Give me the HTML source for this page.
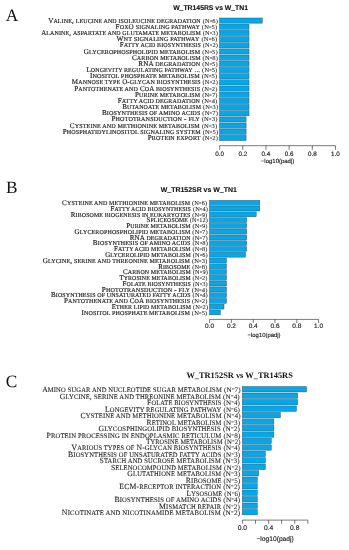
<!DOCTYPE html>
<html lang="en">
<head>
<meta charset="utf-8">
<title>KEGG enrichment bar charts</title>
<style>
html,body{margin:0;padding:0;background:#fff;}
body{position:relative;width:349px;height:550px;overflow:hidden;}
svg{position:absolute;left:0;top:0;display:block;text-rendering:geometricPrecision;}
.lab{position:absolute;white-space:nowrap;font-family:"Liberation Serif",serif;font-size:50px;line-height:50px;
 height:50px;text-rendering:geometricPrecision;text-transform:uppercase;color:#1c1c1c;transform-origin:100% 100%;text-align:right;}
.lab i{font-style:normal;font-size:0.85em;line-height:0;}
.lab u{text-decoration:none;font-size:.92em;line-height:1;display:inline-block;vertical-align:baseline;transform:scaleY(.92);transform-origin:0 83.75%;-webkit-text-stroke-width:0.5px;}
.lab s{text-decoration:none;font-size:.68em;line-height:0;vertical-align:.09em;}
.sans{font-family:"Liberation Sans",sans-serif;fill:#111;stroke:#111;stroke-width:0.12px;}
.serif{font-family:"Liberation Serif",serif;fill:#111;}
.panel{font-family:"Liberation Serif",serif;font-size:17.3px;fill:#111;}
.bar{fill:#02a8ec;stroke:#3a4a55;stroke-width:0.45;}
.ax{stroke:#222;stroke-width:0.6;fill:none;}

.lA{transform:scale(0.1611,0.144);letter-spacing:0.9px;-webkit-text-stroke:1.18px #1c1c1c;}
.lB{transform:scale(0.1611,0.144);letter-spacing:0.9px;-webkit-text-stroke:1.18px #1c1c1c;}
.lC{transform:scale(0.1768,0.158);letter-spacing:0.91px;-webkit-text-stroke:0.63px #1c1c1c;}
.lC u{transform:scaleY(.96);}
</style>
</head>
<body>
<svg width="349" height="550" viewBox="0 0 349 550">
<rect x="0" y="0" width="349" height="550" fill="#ffffff"/>
<g id="chartA">
<text class="panel" x="5.8" y="20.75">A</text>
<text class="sans" x="210.6" y="9.8" font-size="6.85" font-weight="bold" text-anchor="middle">W_TR145RS vs W_TN1</text>
<rect class="bar" x="219.5" y="18" width="42.8" height="5.15"/>
<rect class="bar" x="219.5" y="24.18" width="29.5" height="5.15"/>
<rect class="bar" x="219.5" y="30.36" width="29.5" height="5.15"/>
<rect class="bar" x="219.5" y="36.54" width="29.5" height="5.15"/>
<rect class="bar" x="219.5" y="42.72" width="29.5" height="5.15"/>
<rect class="bar" x="219.5" y="48.9" width="29.5" height="5.15"/>
<rect class="bar" x="219.5" y="55.08" width="29.5" height="5.15"/>
<rect class="bar" x="219.5" y="61.26" width="29.5" height="5.15"/>
<rect class="bar" x="219.5" y="67.44" width="29.5" height="5.15"/>
<rect class="bar" x="219.5" y="73.62" width="29.5" height="5.15"/>
<rect class="bar" x="219.5" y="79.8" width="29.5" height="5.15"/>
<rect class="bar" x="219.5" y="85.98" width="29.5" height="5.15"/>
<rect class="bar" x="219.5" y="92.16" width="29.5" height="5.15"/>
<rect class="bar" x="219.5" y="98.34" width="29.5" height="5.15"/>
<rect class="bar" x="219.5" y="104.52" width="29.5" height="5.15"/>
<rect class="bar" x="219.5" y="110.7" width="29.5" height="5.15"/>
<rect class="bar" x="219.5" y="116.88" width="26.6" height="5.15"/>
<rect class="bar" x="219.5" y="123.06" width="26.6" height="5.15"/>
<rect class="bar" x="219.5" y="129.24" width="26.6" height="5.15"/>
<rect class="bar" x="219.5" y="135.42" width="26.6" height="5.15"/>
<path class="ax" d="M219.6 145.7H335.5M219.6 145.7v4.1M242.78 145.7v4.1M265.96 145.7v4.1M289.14 145.7v4.1M312.32 145.7v4.1M335.5 145.7v4.1"/>
<text class="sans" x="219.6" y="155.8" font-size="6.3" text-anchor="middle">0.0</text>
<text class="sans" x="242.78" y="155.8" font-size="6.3" text-anchor="middle">0.2</text>
<text class="sans" x="265.96" y="155.8" font-size="6.3" text-anchor="middle">0.4</text>
<text class="sans" x="289.14" y="155.8" font-size="6.3" text-anchor="middle">0.6</text>
<text class="sans" x="312.32" y="155.8" font-size="6.3" text-anchor="middle">0.8</text>
<text class="sans" x="335.5" y="155.8" font-size="6.3" text-anchor="middle">1.0</text>
<text class="sans" x="277.55" y="162.5" font-size="5.97" text-anchor="middle">−log10(padj)</text>
</g>
<g id="chartB">
<text class="panel" x="6" y="193">B</text>
<text class="sans" x="198.8" y="192.1" font-size="6.95" font-weight="bold" text-anchor="middle">W_TR152SR vs W_TN1</text>
<rect class="bar" x="209.5" y="200.4" width="50.3" height="4.81"/>
<rect class="bar" x="209.5" y="206.17" width="50.3" height="4.81"/>
<rect class="bar" x="209.5" y="211.94" width="46.7" height="4.81"/>
<rect class="bar" x="209.5" y="217.71" width="37.2" height="4.81"/>
<rect class="bar" x="209.5" y="223.48" width="37.2" height="4.81"/>
<rect class="bar" x="209.5" y="229.25" width="37.2" height="4.81"/>
<rect class="bar" x="209.5" y="235.02" width="37.2" height="4.81"/>
<rect class="bar" x="209.5" y="240.79" width="37.2" height="4.81"/>
<rect class="bar" x="209.5" y="246.56" width="37.2" height="4.81"/>
<rect class="bar" x="209.5" y="252.33" width="36" height="4.81"/>
<rect class="bar" x="209.5" y="258.1" width="17" height="4.81"/>
<rect class="bar" x="209.5" y="263.87" width="17" height="4.81"/>
<rect class="bar" x="209.5" y="269.64" width="17" height="4.81"/>
<rect class="bar" x="209.5" y="275.41" width="17" height="4.81"/>
<rect class="bar" x="209.5" y="281.18" width="17" height="4.81"/>
<rect class="bar" x="209.5" y="286.95" width="17" height="4.81"/>
<rect class="bar" x="209.5" y="292.72" width="17" height="4.81"/>
<rect class="bar" x="209.5" y="298.49" width="17" height="4.81"/>
<rect class="bar" x="209.5" y="304.26" width="14.5" height="4.81"/>
<rect class="bar" x="209.5" y="310.03" width="10.8" height="4.81"/>
<path class="ax" d="M209.6 319.4H318.6M209.6 319.4v3.6M231.4 319.4v3.6M253.2 319.4v3.6M275 319.4v3.6M296.8 319.4v3.6M318.6 319.4v3.6"/>
<text class="sans" x="209.6" y="327.8" font-size="6.5" text-anchor="middle">0.0</text>
<text class="sans" x="231.4" y="327.8" font-size="6.5" text-anchor="middle">0.2</text>
<text class="sans" x="253.2" y="327.8" font-size="6.5" text-anchor="middle">0.4</text>
<text class="sans" x="275" y="327.8" font-size="6.5" text-anchor="middle">0.6</text>
<text class="sans" x="296.8" y="327.8" font-size="6.5" text-anchor="middle">0.8</text>
<text class="sans" x="318.6" y="327.8" font-size="6.5" text-anchor="middle">1.0</text>
<text class="sans" x="264.1" y="336.7" font-size="5.92" text-anchor="middle">−log10(padj)</text>
</g>
<g id="chartC">
<text class="panel" x="5.7" y="387.3">C</text>
<text class="serif" x="239.6" y="378.2" font-size="8.4" font-weight="bold" text-anchor="middle">W_TR152SR vs W_TR145RS</text>
<rect class="bar" x="242.3" y="386.55" width="64.2" height="5.39"/>
<rect class="bar" x="242.3" y="393.02" width="55.4" height="5.39"/>
<rect class="bar" x="242.3" y="399.49" width="55.4" height="5.39"/>
<rect class="bar" x="242.3" y="405.96" width="54.1" height="5.39"/>
<rect class="bar" x="242.3" y="412.43" width="38.1" height="5.39"/>
<rect class="bar" x="242.3" y="418.9" width="31.6" height="5.39"/>
<rect class="bar" x="242.3" y="425.37" width="31.6" height="5.39"/>
<rect class="bar" x="242.3" y="431.84" width="31.6" height="5.39"/>
<rect class="bar" x="242.3" y="438.31" width="29" height="5.39"/>
<rect class="bar" x="242.3" y="444.78" width="29" height="5.39"/>
<rect class="bar" x="242.3" y="451.25" width="23.1" height="5.39"/>
<rect class="bar" x="242.3" y="457.72" width="23.1" height="5.39"/>
<rect class="bar" x="242.3" y="464.19" width="23.1" height="5.39"/>
<rect class="bar" x="242.3" y="470.66" width="16.3" height="5.39"/>
<rect class="bar" x="242.3" y="477.13" width="15" height="5.39"/>
<rect class="bar" x="242.3" y="483.6" width="15" height="5.39"/>
<rect class="bar" x="242.3" y="490.07" width="15" height="5.39"/>
<rect class="bar" x="242.3" y="496.54" width="15" height="5.39"/>
<rect class="bar" x="242.3" y="503.01" width="15" height="5.39"/>
<rect class="bar" x="242.3" y="509.48" width="15" height="5.39"/>
<path class="ax" d="M242.4 520.1H307.8M242.4 520.1v3.7M255.48 520.1v3.7M268.56 520.1v3.7M281.64 520.1v3.7M294.72 520.1v3.7M307.8 520.1v3.7"/>
<text class="sans" x="242.4" y="530" font-size="6.7" text-anchor="middle">0.0</text>
<text class="sans" x="268.56" y="530" font-size="6.7" text-anchor="middle">0.4</text>
<text class="sans" x="294.72" y="530" font-size="6.7" text-anchor="middle">0.8</text>
<text class="sans" x="275.1" y="541.3" font-size="6.7" text-anchor="middle">−log10(padj)</text>
</g>
</svg>
<div class="lab lA" style="right:131.27px;bottom:526.4px;transform:scale(0.1407,0.144)">V<i>aline</i>, <i>leucine and isoleucine degradation</i> <u>(N<s>=</s>6)</u></div>
<div class="lab lA" style="right:131.27px;bottom:520.23px;transform:scale(0.1418,0.144)">F<i>ox</i>O <i>signaling pathway</i> <u>(N<s>=</s>5)</u></div>
<div class="lab lA" style="right:131.27px;bottom:514.04px;transform:scale(0.1395,0.144)">A<i>lanine</i>, <i>aspartate and glutamate metabolism</i> <u>(N<s>=</s>3)</u></div>
<div class="lab lA" style="right:131.27px;bottom:507.87px;transform:scale(0.1454,0.144)">W<i>nt signaling pathway</i> <u>(N<s>=</s>6)</u></div>
<div class="lab lA" style="right:131.27px;bottom:501.69px;transform:scale(0.1399,0.144)">F<i>atty acid biosynthesis</i> <u>(N<s>=</s>2)</u></div>
<div class="lab lA" style="right:131.27px;bottom:495.5px;transform:scale(0.1423,0.144)">G<i>lycerophospholipid metabolism</i> <u>(N<s>=</s>5)</u></div>
<div class="lab lA" style="right:131.27px;bottom:489.32px;transform:scale(0.1416,0.144)">C<i>arbon metabolism</i> <u>(N<s>=</s>8)</u></div>
<div class="lab lA" style="right:131.27px;bottom:483.14px;transform:scale(0.1431,0.144)">RNA <i>degradation</i> <u>(N<s>=</s>5)</u></div>
<div class="lab lA" style="right:131.27px;bottom:476.97px;transform:scale(0.14,0.144)">L<i>ongevity regulating pathway</i> ... <u>(N<s>=</s>5)</u></div>
<div class="lab lA" style="right:131.27px;bottom:470.78px;transform:scale(0.1441,0.144)">I<i>nositol phosphate metabolism</i> <u>(N<s>=</s>5)</u></div>
<div class="lab lA" style="right:131.27px;bottom:464.61px;transform:scale(0.1409,0.144)">M<i>annose type</i> O-<i>glycan biosynthesis</i> <u>(N<s>=</s>2)</u></div>
<div class="lab lA" style="right:131.27px;bottom:458.43px;transform:scale(0.1413,0.144)">P<i>antothenate and</i> C<i>o</i>A <i>biosynthesis</i> <u>(N<s>=</s>2)</u></div>
<div class="lab lA" style="right:131.27px;bottom:452.25px;transform:scale(0.1416,0.144)">P<i>urine metabolism</i> <u>(N<s>=</s>7)</u></div>
<div class="lab lA" style="right:131.27px;bottom:446.06px;transform:scale(0.1415,0.144)">F<i>atty acid degradation</i> <u>(N<s>=</s>4)</u></div>
<div class="lab lA" style="right:131.27px;bottom:439.88px;transform:scale(0.1401,0.144)">B<i>utanoate metabolism</i> <u>(N<s>=</s>3)</u></div>
<div class="lab lA" style="right:131.27px;bottom:433.71px;transform:scale(0.1439,0.144)">B<i>iosynthesis of amino acids</i> <u>(N<s>=</s>7)</u></div>
<div class="lab lA" style="right:131.27px;bottom:427.52px;transform:scale(0.144,0.144)">P<i>hototransduction</i> - <i>fly</i> <u>(N<s>=</s>3)</u></div>
<div class="lab lA" style="right:131.27px;bottom:421.35px;transform:scale(0.1434,0.144)">C<i>ysteine and methionine metabolism</i> <u>(N<s>=</s>3)</u></div>
<div class="lab lA" style="right:131.27px;bottom:415.17px;transform:scale(0.1427,0.144)">P<i>hosphatidylinositol signaling system</i> <u>(N<s>=</s>5)</u></div>
<div class="lab lA" style="right:131.27px;bottom:408.99px;transform:scale(0.1428,0.144)">P<i>rotein export</i> <u>(N<s>=</s>2)</u></div>
<div class="lab lB" style="right:141.27px;bottom:343.93px;transform:scale(0.1411,0.144)">C<i>ysteine and methionine metabolism</i> <u>(N<s>=</s>6)</u></div>
<div class="lab lB" style="right:141.27px;bottom:338.16px;transform:scale(0.1387,0.144)">F<i>atty acid biosynthesis</i> <u>(N<s>=</s>4)</u></div>
<div class="lab lB" style="right:141.27px;bottom:332.39px;transform:scale(0.139,0.144)">R<i>ibosome biogenesis in eukaryotes</i> <u>(N<s>=</s>9)</u></div>
<div class="lab lB" style="right:141.28px;bottom:326.62px;transform:scale(0.1361,0.144)">S<i>pliceosome</i> <u>(N<s>=</s>12)</u></div>
<div class="lab lB" style="right:141.27px;bottom:320.85px;transform:scale(0.1394,0.144)">P<i>urine metabolism</i> <u>(N<s>=</s>9)</u></div>
<div class="lab lB" style="right:141.27px;bottom:315.08px;transform:scale(0.1415,0.144)">G<i>lycerophospholipid metabolism</i> <u>(N<s>=</s>7)</u></div>
<div class="lab lB" style="right:141.27px;bottom:309.31px;transform:scale(0.1406,0.144)">RNA <i>degradation</i> <u>(N<s>=</s>7)</u></div>
<div class="lab lB" style="right:141.27px;bottom:303.54px;transform:scale(0.1427,0.144)">B<i>iosynthesis of amino acids</i> <u>(N<s>=</s>8)</u></div>
<div class="lab lB" style="right:141.28px;bottom:297.77px;transform:scale(0.1381,0.144)">F<i>atty acid metabolism</i> <u>(N<s>=</s>8)</u></div>
<div class="lab lB" style="right:141.28px;bottom:292px;transform:scale(0.1383,0.144)">G<i>lycerolipid metabolism</i> <u>(N<s>=</s>6)</u></div>
<div class="lab lB" style="right:141.27px;bottom:286.23px;transform:scale(0.1418,0.144)">G<i>lycine</i>, <i>serine and threonine metabolism</i> <u>(N<s>=</s>3)</u></div>
<div class="lab lB" style="right:141.27px;bottom:280.46px;transform:scale(0.1386,0.144)">R<i>ibosome</i> <u>(N<s>=</s>8)</u></div>
<div class="lab lB" style="right:141.27px;bottom:274.69px;transform:scale(0.1398,0.144)">C<i>arbon metabolism</i> <u>(N<s>=</s>9)</u></div>
<div class="lab lB" style="right:141.28px;bottom:268.92px;transform:scale(0.137,0.144)">T<i>yrosine metabolism</i> <u>(N<s>=</s>2)</u></div>
<div class="lab lB" style="right:141.27px;bottom:263.15px;transform:scale(0.1387,0.144)">F<i>olate biosynthesis</i> <u>(N<s>=</s>3)</u></div>
<div class="lab lB" style="right:141.27px;bottom:257.38px;transform:scale(0.1435,0.144)">P<i>hototransduction</i> - <i>fly</i> <u>(N<s>=</s>4)</u></div>
<div class="lab lB" style="right:141.27px;bottom:251.61px;transform:scale(0.1402,0.144)">B<i>iosynthesis of unsaturated fatty acids</i> <u>(N<s>=</s>4)</u></div>
<div class="lab lB" style="right:141.27px;bottom:245.84px;transform:scale(0.1415,0.144)">P<i>antothenate and</i> C<i>o</i>A <i>biosynthesis</i> <u>(N<s>=</s>2)</u></div>
<div class="lab lB" style="right:141.27px;bottom:240.07px;transform:scale(0.1396,0.144)">E<i>ther lipid metabolism</i> <u>(N<s>=</s>2)</u></div>
<div class="lab lB" style="right:141.27px;bottom:234.3px;transform:scale(0.1424,0.144)">I<i>nositol phosphate metabolism</i> <u>(N<s>=</s>5)</u></div>
<div class="lab lC" style="right:108.76px;bottom:156.77px;transform:scale(0.1541,0.158)">A<i>mino sugar and nucleotide sugar metabolism</i> <u>(N<s>=</s>7)</u></div>
<div class="lab lC" style="right:108.76px;bottom:150.3px;transform:scale(0.155,0.158)">G<i>lycine</i>, <i>serine and threonine metabolism</i> <u>(N<s>=</s>4)</u></div>
<div class="lab lC" style="right:108.76px;bottom:143.83px;transform:scale(0.1511,0.158)">F<i>olate biosynthesis</i> <u>(N<s>=</s>4)</u></div>
<div class="lab lC" style="right:108.76px;bottom:137.36px;transform:scale(0.1531,0.158)">L<i>ongevity regulating pathway</i> <u>(N<s>=</s>6)</u></div>
<div class="lab lC" style="right:108.76px;bottom:130.89px;transform:scale(0.1556,0.158)">C<i>ysteine and methionine metabolism</i> <u>(N<s>=</s>4)</u></div>
<div class="lab lC" style="right:108.76px;bottom:124.42px;transform:scale(0.1533,0.158)">R<i>etinol metabolism</i> <u>(N<s>=</s>3)</u></div>
<div class="lab lC" style="right:108.76px;bottom:117.95px;transform:scale(0.1567,0.158)">G<i>lycosphingolipid biosynthesis</i> <u>(N<s>=</s>2)</u></div>
<div class="lab lC" style="right:108.76px;bottom:111.48px;transform:scale(0.1562,0.158)">P<i>rotein processing in endoplasmic reticulum</i> <u>(N<s>=</s>8)</u></div>
<div class="lab lC" style="right:108.77px;bottom:105.01px;transform:scale(0.1474,0.158)">T<i>yrosine metabolism</i> <u>(N<s>=</s>2)</u></div>
<div class="lab lC" style="right:108.76px;bottom:98.54px;transform:scale(0.1522,0.158)">V<i>arious types of</i> N-<i>glycan biosynthesis</i> <u>(N<s>=</s>4)</u></div>
<div class="lab lC" style="right:108.76px;bottom:92.07px;transform:scale(0.1539,0.158)">B<i>iosynthesis of unsaturated fatty acids</i> <u>(N<s>=</s>3)</u></div>
<div class="lab lC" style="right:108.76px;bottom:85.6px;transform:scale(0.1546,0.158)">S<i>tarch and sucrose metabolism</i> <u>(N<s>=</s>3)</u></div>
<div class="lab lC" style="right:108.76px;bottom:79.13px;transform:scale(0.1539,0.158)">S<i>elenocompound metabolism</i> <u>(N<s>=</s>2)</u></div>
<div class="lab lC" style="right:108.76px;bottom:72.66px;transform:scale(0.1546,0.158)">G<i>lutathione metabolism</i> <u>(N<s>=</s>3)</u></div>
<div class="lab lC" style="right:108.76px;bottom:66.19px;transform:scale(0.154,0.158)">R<i>ibosome</i> <u>(N<s>=</s>5)</u></div>
<div class="lab lC" style="right:108.76px;bottom:59.72px;transform:scale(0.1544,0.158)">ECM-<i>receptor interaction</i> <u>(N<s>=</s>2)</u></div>
<div class="lab lC" style="right:108.76px;bottom:53.25px;transform:scale(0.1482,0.158)">L<i>ysosome</i> <u>(N<s>=</s>6)</u></div>
<div class="lab lC" style="right:108.76px;bottom:46.78px;transform:scale(0.156,0.158)">B<i>iosynthesis of amino acids</i> <u>(N<s>=</s>4)</u></div>
<div class="lab lC" style="right:108.76px;bottom:40.31px;transform:scale(0.1541,0.158)">M<i>ismatch repair</i> <u>(N<s>=</s>2)</u></div>
<div class="lab lC" style="right:108.76px;bottom:33.84px;transform:scale(0.1581,0.158)">N<i>icotinate and nicotinamide metabolism</i> <u>(N<s>=</s>2)</u></div>
</body>
</html>
